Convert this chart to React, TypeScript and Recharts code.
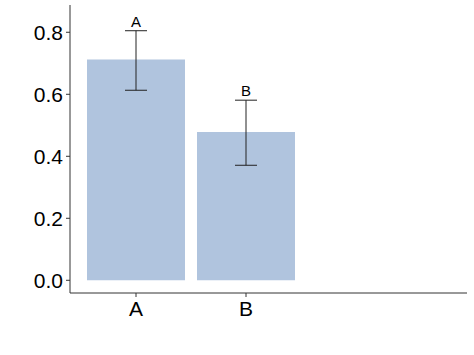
import React from 'react';
import {
  ComposedChart,
  Bar,
  Line,
  XAxis,
  YAxis,
  ErrorBar,
  LabelList
} from 'recharts';

// Values
const groups = ['A', 'B'];
const means = [0.712, 0.478];
const errLow = [0.099, 0.107];
const errHigh = [0.093, 0.103];
const letters = ['A', 'B'];
const yTicks = [0, 0.2, 0.4, 0.6, 0.8];

const data = groups.map((g, i) => ({
  group: g,
  mean: means[i],
  err: [errLow[i], errHigh[i]],
  top: means[i] + errHigh[i],
  letter: letters[i]
}));

const FONT = '"Liberation Sans", Arial, sans-serif';
const AXIS = '#333333';

export default function App() {
  return (
    <div style={{ position: 'absolute', left: 0, top: 0, background: '#fff' }}>
      <ComposedChart
        width={474}
        height={355}
        data={data}
        margin={{ top: 5, right: 7, bottom: 22, left: 0 }}
        barCategoryGap={6}
      >
        <XAxis
          dataKey="group"
          padding={{ left: 11, right: 166 }}
          height={40}
          axisLine={{ stroke: AXIS, strokeWidth: 1 }}
          tickLine={{ stroke: AXIS }}
          tickSize={4}
          tickMargin={4}
          tick={{ fill: '#000', fontSize: 21, fontFamily: FONT }}
        />
        <YAxis
          type="number"
          domain={[-0.041, 0.888]}
          ticks={yTicks}
          allowDataOverflow
          width={70}
          axisLine={{ stroke: AXIS, strokeWidth: 1 }}
          tickLine={{ stroke: AXIS }}
          tickSize={4}
          tickMargin={3}
          tickFormatter={(v: number) => v.toFixed(1)}
          tick={{ fill: '#000', fontSize: 21, fontFamily: FONT }}
        />
        <Bar dataKey="mean" fill="#B0C4DE" isAnimationActive={false}>
          <ErrorBar dataKey="err" width={11} stroke="#222" strokeWidth={1} />
        </Bar>
        <Line
          dataKey="top"
          stroke="none"
          dot={false}
          activeDot={false}
          isAnimationActive={false}
        >
          <LabelList
            dataKey="letter"
            position="top"
            offset={4}
            fill="#000"
            fontSize={15}
            fontFamily={FONT}
          />
        </Line>
      </ComposedChart>
    </div>
  );
}
